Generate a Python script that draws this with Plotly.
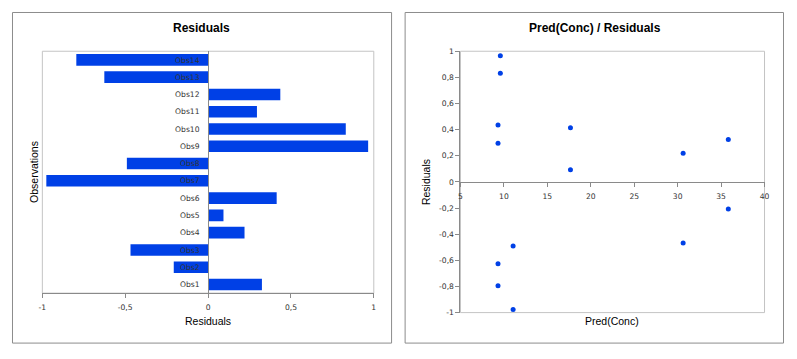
import plotly.graph_objects as go

# ---- data ----
observations = ["Obs1", "Obs2", "Obs3", "Obs4", "Obs5", "Obs6", "Obs7",
                "Obs8", "Obs9", "Obs10", "Obs11", "Obs12", "Obs13", "Obs14"]
residuals = [0.325, -0.207, -0.468, 0.220, 0.093, 0.414, -0.976,
             -0.490, 0.966, 0.831, 0.295, 0.436, -0.626, -0.795]
pred_conc = [35.83, 35.83, 30.63, 30.63, 17.66, 17.66, 11.06,
             11.06, 9.59, 9.59, 9.32, 9.32, 9.32, 9.32]

bar_x_ticks = [-1, -0.5, 0, 0.5, 1]
bar_x_labels = ["-1", "-0,5", "0", "0,5", "1"]
pred_ticks = [5, 10, 15, 20, 25, 30, 35, 40]
pred_labels = ["5", "10", "15", "20", "25", "30", "35", "40"]
res_ticks = [-1, -0.8, -0.6, -0.4, -0.2, 0, 0.2, 0.4, 0.6, 0.8, 1]
res_labels = ["-1", "-0,8", "-0,6", "-0,4", "-0,2", "0", "0,2", "0,4", "0,6", "0,8", "1"]

# page has an 8px body margin; figure sized to fit inside the window
OFF = 8
W, H = 797 - 2 * OFF, 359 - 2 * OFF
def px(x):
    return (x - OFF) / W
def py(y):
    return 1 - (y - OFF) / H

BLUE = "#0040E6"
AXIS = "#8a8a8a"
BOX = "#c4c4c4"
PANEL = "#8c8c8c"
TICKFONT = dict(family="DejaVu Sans", size=7.6, color="#333333")

# plot-area pixel geometry (window pixels)
L_x0, L_x1, L_y0, L_y1 = 38.7, 374.0, 48.3, 296.7
R_x0, R_x1, R_y0, R_y1 = 461.7, 769.3, 48.3, 316.7

fig = go.Figure()
fig.add_trace(go.Bar(x=residuals, y=observations, orientation="h",
                     marker=dict(color=BLUE, line=dict(width=0)),
                     xaxis="x", yaxis="y", showlegend=False))
fig.add_trace(go.Scatter(x=pred_conc, y=residuals, mode="markers",
                         marker=dict(color=BLUE, size=5),
                         xaxis="x2", yaxis="y2", showlegend=False))

fig.update_layout(
    width=W, height=H,
    margin=dict(l=0, r=0, t=0, b=0),
    paper_bgcolor="white", plot_bgcolor="white",
    bargap=0.33,
    xaxis=dict(domain=[px(L_x0), px(L_x1)], range=[-1, 1], anchor="y",
               showgrid=False, zeroline=False, showline=True, linecolor=AXIS,
               linewidth=1, ticks="outside", ticklen=4, tickcolor=AXIS,
               ticklabelstandoff=3,
               tickvals=bar_x_ticks, ticktext=bar_x_labels, tickfont=TICKFONT),
    yaxis=dict(domain=[py(L_y1), py(L_y0)], anchor="free",
               position=(px(L_x0) + px(L_x1)) / 2,
               type="category", categoryorder="array", categoryarray=observations,
               range=[-0.5, len(observations) - 0.5],
               showgrid=False, zeroline=False, showline=True, linecolor=AXIS,
               linewidth=1, ticks="", ticklabelstandoff=7, tickfont=TICKFONT),
    xaxis2=dict(domain=[px(R_x0), px(R_x1)], range=[5, 40], anchor="free",
                position=(py(R_y1) + py(R_y0)) / 2,
                showgrid=False, zeroline=False, showline=True, linecolor=AXIS,
                linewidth=1, ticks="outside", ticklen=4, tickcolor=AXIS,
                ticklabelstandoff=3,
                tickvals=pred_ticks, ticktext=pred_labels, tickfont=TICKFONT),
    yaxis2=dict(domain=[py(R_y1), py(R_y0)], range=[-1, 1], anchor="x2",
                showgrid=False, zeroline=False, showline=True, linecolor=AXIS,
                linewidth=1, ticks="outside", ticklen=4, tickcolor=AXIS,
                tickvals=res_ticks, ticktext=res_labels, tickfont=TICKFONT),
)

shapes = []
# panel borders
for (a, b) in [(8.5, 392), (405.7, 788.5)]:
    shapes.append(dict(type="rect", xref="paper", yref="paper",
                       x0=px(a), x1=px(b), y0=py(348), y1=py(8.5),
                       line=dict(color=PANEL, width=1), layer="below"))
# plot-area boxes
shapes.append(dict(type="rect", xref="paper", yref="paper",
                   x0=px(L_x0), x1=px(L_x1), y0=py(L_y1), y1=py(L_y0),
                   line=dict(color=BOX, width=1), layer="below"))
shapes.append(dict(type="rect", xref="paper", yref="paper",
                   x0=px(R_x0), x1=px(R_x1), y0=py(R_y1), y1=py(R_y0),
                   line=dict(color=BOX, width=1), layer="below"))
fig.update_layout(shapes=shapes)

TITLE = dict(family="Liberation Sans", size=12, color="black")
AXT = dict(family="Liberation Sans", size=10.5, color="black")
ann = [
    dict(text="<b>Residuals</b>", x=px(200), y=py(24.5), font=TITLE),
    dict(text="<b>Pred(Conc) / Residuals</b>", x=px(597.5), y=py(24.5), font=TITLE),
    dict(text="Residuals", x=px(206.3), y=py(325), font=AXT),
    dict(text="Observations", x=px(30), y=py(172.5), font=AXT, textangle=-90),
    dict(text="Residuals", x=px(427), y=py(182.5), font=AXT, textangle=-90),
    dict(text="Pred(Conc)", x=px(615.5), y=py(325), font=AXT),
]
for a in ann:
    a.update(xref="paper", yref="paper", showarrow=False,
             xanchor="center", yanchor="middle")
fig.update_layout(annotations=ann)

fig.write_html("out.html")
